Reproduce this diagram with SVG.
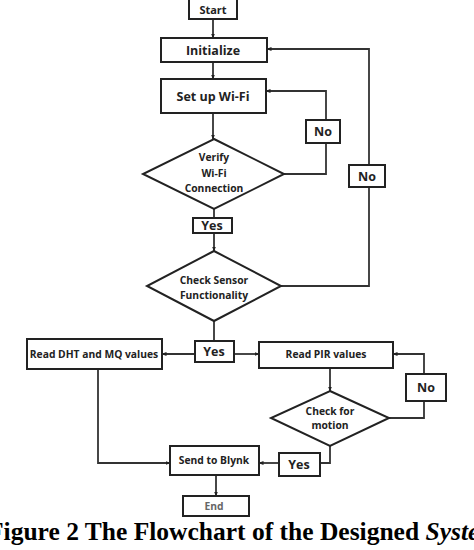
<svg xmlns="http://www.w3.org/2000/svg" width="474" height="550" viewBox="0 0 474 550">
<defs>
<marker id="ah" viewBox="0 0 10 10" refX="9" refY="5" markerWidth="5" markerHeight="5" orient="auto" markerUnits="userSpaceOnUse">
<path d="M0,1 L10,5 L0,9 z" fill="#222"/>
</marker>
<style>
.box{fill:#fff;stroke:#222;stroke-width:2}
.ln{fill:none;stroke:#333;stroke-width:1.8}
.ar{fill:none;stroke:#333;stroke-width:1.8;marker-end:url(#ah)}
.t{font-family:"Open Sans","Liberation Sans",sans-serif;font-weight:bold;fill:#222;text-anchor:middle;font-size:10.3px}
.tl{font-size:12.5px}
.cap{font-family:"Liberation Serif","Times New Roman",serif;font-weight:bold;font-size:25.5px;fill:#000}
</style>
</defs>
<rect width="474" height="550" fill="#fff"/>
<g id="connectors">
<path class="ar" d="M213,19 V38"/>
<path class="ar" d="M213,62 V79"/>
<path class="ar" d="M213,113 V139"/>
<path class="ln" d="M284,174 H326 V143"/>
<path class="ar" d="M326,120 V91 H266"/>
<path class="ln" d="M214,209 V218"/>
<path class="ar" d="M214,233 V251"/>
<path class="ln" d="M281,286 H369 V187"/>
<path class="ar" d="M369,165 V49 H267"/>
<path class="ln" d="M214,321 V341"/>
<path class="ar" d="M195,354 H162"/>
<path class="ar" d="M234,354 H259"/>
<path class="ar" d="M330,368 V391"/>
<path class="ln" d="M389,418 H424 V401"/>
<path class="ar" d="M424,374 V354 H393"/>
<path class="ln" d="M330,446 V463 H320"/>
<path class="ar" d="M279,463 H259"/>
<path class="ar" d="M98,369 V463 H170"/>
<path class="ar" d="M216,475 V496"/>
</g>
<g id="start"><rect class="box" x="189" y="-2" width="48" height="21"/><text class="t" x="213" y="14" style="font-size:11px">Start</text></g>
<g id="initialize"><rect class="box" x="161" y="38" width="106" height="24"/><text class="t tl" x="213" y="55">Initialize</text></g>
<g id="setup-wifi"><rect class="box" x="161" y="79" width="105" height="34"/><text class="t tl" x="213" y="101">Set up Wi-Fi</text></g>
<g id="verify"><polygon class="box" points="214,139 284,174 214,209 143,174"/>
<text class="t" x="214" y="161">Verify</text><text class="t" x="214" y="177">Wi-Fi</text><text class="t" x="214" y="192">Connection</text></g>
<g id="no1"><rect class="box" x="306" y="120" width="34" height="23"/><text class="t tl" x="323" y="136">No</text></g>
<g id="no2"><rect class="box" x="349" y="165" width="36" height="22"/><text class="t tl" x="367" y="181">No</text></g>
<g id="yes1"><rect class="box" x="193" y="218" width="39" height="15"/><text class="t tl" x="212" y="230">Yes</text></g>
<g id="check-sensor"><polygon class="box" points="214,251 281,286 214,321 147,286"/>
<text class="t" x="214" y="284">Check Sensor</text><text class="t" x="214" y="299">Functionality</text></g>
<g id="yes2"><rect class="box" x="195" y="341" width="39" height="21"/><text class="t tl" x="214" y="356">Yes</text></g>
<g id="read-dht"><rect class="box" x="27" y="339" width="135" height="30"/><text class="t" x="94" y="358">Read DHT and MQ values</text></g>
<g id="read-pir"><rect class="box" x="259" y="342" width="134" height="26"/><text class="t" x="326" y="358">Read PIR values</text></g>
<g id="no3"><rect class="box" x="406" y="374" width="40" height="27"/><text class="t tl" x="426" y="392">No</text></g>
<g id="check-motion"><polygon class="box" points="330,391 389,418 330,446 271,418"/>
<text class="t" x="330" y="415">Check for</text><text class="t" x="330" y="429">motion</text></g>
<g id="yes3"><rect class="box" x="279" y="453" width="41" height="23"/><text class="t tl" x="299" y="469">Yes</text></g>
<g id="send-blynk"><rect class="box" x="170" y="446" width="89" height="29"/><text class="t" x="214" y="464">Send to Blynk</text></g>
<g id="end"><rect class="box" x="183" y="496" width="66" height="20"/><text class="t" x="214" y="510" style="fill:#666">End</text></g>
<text class="cap" x="-12" y="540">Figure 2 The Flowchart of the Designed <tspan font-style="italic">System</tspan></text>
</svg>
